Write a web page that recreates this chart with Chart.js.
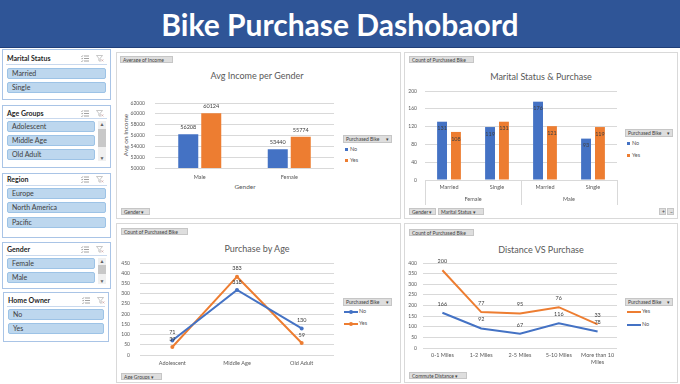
<!DOCTYPE html>
<html><head><meta charset="utf-8">
<script src="https://cdn.jsdelivr.net/npm/chart.js@4"></script>
<style>
body{margin:0;width:680px;height:384px;overflow:hidden;background:#fff;font-family:Lato,'Open Sans',sans-serif;position:relative}
#hdr{position:absolute;left:0;top:0;width:680px;height:47px;background:#2F5597;border-bottom:1px solid #1f3e78}
#hdr div{position:absolute;left:0;right:0;top:6px;text-align:center;color:#fff;font-weight:bold;font-size:30px;line-height:36px}
.slicer{position:absolute;border:1px solid #a9c4e6;background:#fff;box-sizing:border-box}
.sh{position:absolute;font-size:7px;font-weight:bold;color:#262626;line-height:8px;white-space:nowrap}
.sep{position:absolute;height:1px;background:#c9d9ee}
.item{position:absolute;height:11px;background:#BDD7EE;border:1px solid #9DC3E6;border-radius:2px;box-sizing:border-box;font-size:7px;color:#404040;line-height:9px;padding-left:4px;white-space:nowrap}
.sb{position:absolute;width:8px;background:#f0f0f0}
.thumb{position:absolute;width:8px;background:#c8c8c8}
.arr{position:absolute;width:8px;font-size:5px;color:#606060;text-align:center;line-height:6px}
.panel{position:absolute;border:1px solid #d9d9d9;box-sizing:border-box;background:#fff}
.btn{position:absolute;background:#dedede;border:1px solid #c6c6c6;box-sizing:border-box;font-size:5px;color:#404040;line-height:6px;padding-left:2px;white-space:nowrap;overflow:hidden}
.ttl{position:absolute;font-size:9px;color:#595959;white-space:nowrap;transform:translate(-50%,-50%)}
.axt{position:absolute;font-size:6.5px;color:#595959;white-space:nowrap;transform:translate(-50%,-50%)}
.lg{position:absolute;font-size:5.5px;color:#595959;white-space:nowrap;line-height:6px}
.sq{display:inline-block;width:3px;height:3px;margin-right:2px;vertical-align:middle}
.ln{display:inline-block;width:14px;height:2px;margin-right:1px;vertical-align:middle;position:relative}
.ln i{position:absolute;left:5px;top:-1px;width:4px;height:4px;border-radius:50%}
canvas{position:absolute}
svg{position:absolute}
</style>
</head>
<body>
<div id="hdr"><div>Bike Purchase Dashobaord</div></div>
<script>
// ---------- data ----------
const incomeGenders = ['Male', 'Female'];
const incomeNo = [56208, 53440];
const incomeYes = [60124, 55774];
const incomeMin = 50000, incomeMax = 62000, incomeStep = 2000;

const maritalCats = ['Married', 'Single', 'Married', 'Single'];
const maritalGroups = ['Female', 'Male'];
const maritalNo = [131, 119, 176, 93];
const maritalYes = [108, 131, 121, 119];

const ageCats = ['Adolescent', 'Middle Age', 'Old Adult'];
const ageNo = [71, 318, 130];
const ageYes = [39, 383, 59];

const distCats = ['0-1 Miles', '1-2 Miles', '2-5 Miles', '5-10 Miles', ['More than 10', 'Miles']];
const distNo = [166, 92, 67, 116, 78];
const distYes = [200, 77, 95, 76, 33];

const BLUE = '#4472C4', ORANGE = '#ED7D31';

// ---------- helpers ----------
function el(cls, css, html){
  const d=document.createElement('div'); d.className=cls;
  Object.assign(d.style, css); if(html!==undefined) d.innerHTML=html;
  document.body.appendChild(d); return d;
}
function px(o){const r={};for(const k in o){r[k]=typeof o[k]==='number'?o[k]+'px':o[k];}return r;}

// ---------- slicers ----------
const slicers = [
  {t:'Marital Status', x:2, y:49, w:109, h:51, hy:54, sy:64, items:[['Married',68],['Single',82]], scroll:null},
  {t:'Age Groups', x:2, y:105, w:109, h:63, hy:109, sy:118, items:[['Adolescent',121],['Middle Age',135],['Old Adult',149]], scroll:[121,161,129,147]},
  {t:'Region', x:2, y:173, w:109, h:65, hy:175, sy:185, items:[['Europe',188],['North America',202],['Pacific',217]], scroll:null},
  {t:'Gender', x:2, y:242, w:109, h:47, hy:245, sy:255, items:[['Female',258],['Male',272]], scroll:[258,284,265,274]},
  {t:'Home Owner', x:3, y:292, w:106, h:50, hy:296, sy:306, items:[['No',309],['Yes',323]], scroll:null}
];
const iconSel = (x,y)=>`<svg style="left:${x}px;top:${y}px" width="8" height="7" viewBox="0 0 8 7"><g stroke="#8a8a8a" stroke-width="0.8" fill="none"><path d="M3 1H8M3 3.5H8M3 6H8"/><path d="M0.3 1l0.6 0.6 1-1.2M0.3 3.5l0.6 0.6 1-1.2M0.3 6l0.6 0.6 1-1.2"/></g></svg>`;
const iconClr = (x,y)=>`<svg style="left:${x}px;top:${y}px" width="8" height="7" viewBox="0 0 8 7"><path d="M0.5 0.5H6.5L4.2 3.3V6.3L2.8 5.6V3.3Z" fill="none" stroke="#b0b0b0" stroke-width="0.7"/><path d="M5.3 4.4l2 2M7.3 4.4l-2 2" stroke="#c8a0a0" stroke-width="0.7"/></svg>`;
slicers.forEach(s=>{
  el('slicer', px({left:s.x, top:s.y, width:s.w, height:s.h}));
  el('sh', px({left:s.x+5, top:s.hy}), s.t);
  document.body.insertAdjacentHTML('beforeend', iconSel(s.x+79, s.hy+0.5) + iconClr(s.x+94, s.hy+0.5));
  el('sep', px({left:s.x+4, top:s.sy, width:s.w-8}));
  const iw = s.scroll ? 88 : s.w-10;
  s.items.forEach(([t,y])=> el('item', px({left:s.x+5, top:y, width:iw}), t));
  if(s.scroll){
    const [a,b,ta,tb]=s.scroll;
    el('sb', px({left:s.x+96, top:a, height:b-a}));
    el('thumb', px({left:s.x+96, top:ta, height:tb-ta}));
    el('arr', px({left:s.x+96, top:a}), '&#9650;');
    el('arr', px({left:s.x+96, top:b-6}), '&#9660;');
  }
});

// ---------- panels ----------
[[116,52,285,167],[404,52,274,167],[116,223,285,160],[404,223,274,160]].forEach(p=>el('panel', px({left:p[0],top:p[1],width:p[2],height:p[3]})));

// buttons
function btn(x,y,w,t,h){el('btn', px({left:x, top:y, width:w, height:h||7}), t);}
btn(120,56,53,'Average of Income');
btn(409,56,65,'Count of Purchased Bike');
btn(121,228,67,'Count of Purchased Bike');
btn(409,229,65,'Count of Purchased Bike');
btn(121,208,29,'Gender &#9662;');
btn(409,208,27,'Gender &#9662;');
btn(438,208,46,'Marital Status &#9662;');
btn(659,208,7,'+');
btn(667,208,7,'&minus;');
btn(121,373,41,'Age Groups &#9662;');
btn(409,372,58,'Commute Distance &#9662;');
btn(343,135,49,'Purchased Bike <span style="float:right;margin-right:2px">&#9662;</span>',8);
btn(625,129,48,'Purchased Bike <span style="float:right;margin-right:2px">&#9662;</span>',8);
btn(343,298,49,'Purchased Bike <span style="float:right;margin-right:2px">&#9662;</span>',8);
btn(625,298,48,'Purchased Bike <span style="float:right;margin-right:2px">&#9662;</span>',8);

// titles
el('ttl', px({left:257, top:75}), 'Avg Income per Gender');
el('ttl', px({left:541, top:76}), 'Marital Status &amp; Purchase');
el('ttl', px({left:257, top:248}), 'Purchase by Age');
el('ttl', px({left:541, top:249}), 'Distance VS Purchase');
el('axt', Object.assign(px({left:125, top:135}),{transform:'translate(-50%,-50%) rotate(-90deg)'}), 'Avg on Income');
el('axt', px({left:245, top:186}), 'Gender');

// legends
el('lg', px({left:345, top:146}), `<span class="sq" style="background:${BLUE}"></span>No`);
el('lg', px({left:345, top:157}), `<span class="sq" style="background:${ORANGE}"></span>Yes`);
el('lg', px({left:627, top:140}), `<span class="sq" style="background:${BLUE}"></span>No`);
el('lg', px({left:627, top:152}), `<span class="sq" style="background:${ORANGE}"></span>Yes`);
el('lg', px({left:344, top:308}), `<span class="ln" style="background:${BLUE}"><i style="background:${BLUE}"></i></span>No`);
el('lg', px({left:344, top:320}), `<span class="ln" style="background:${ORANGE}"><i style="background:${ORANGE}"></i></span>Yes`);
el('lg', px({left:627, top:308}), `<span class="ln" style="background:${ORANGE}"></span>Yes`);
el('lg', px({left:627, top:321}), `<span class="ln" style="background:${BLUE}"></span>No`);

// ---------- chart plugins ----------
const dataLabels = {
  id:'dl',
  afterDatasetsDraw(chart, args, o){
    const ctx=chart.ctx; ctx.save();
    ctx.font = (o.size||5.5)+'px Lato'; ctx.fillStyle = o.color||'#404040';
    ctx.textAlign='center'; ctx.textBaseline='middle';
    chart.data.datasets.forEach((ds,i)=>{
      chart.getDatasetMeta(i).data.forEach((e,j)=>{
        const y = o.mode==='inside' ? e.y + o.offset : e.y - o.offset;
        ctx.fillText(String(ds.data[j]), e.x, y);
      });
    });
    ctx.restore();
  }
};
const groupAxis = {
  id:'grp',
  afterDraw(chart){
    const ctx=chart.ctx, x=chart.scales.x, a=chart.chartArea;
    const n = maritalCats.length / maritalGroups.length;
    ctx.save(); ctx.strokeStyle='#d9d9d9'; ctx.lineWidth=1;
    const bounds=[a.left];
    for(let g=1; g<maritalGroups.length; g++) bounds.push((x.getPixelForValue(g*n-1)+x.getPixelForValue(g*n))/2);
    bounds.push(a.right);
    bounds.forEach(b=>{ctx.beginPath(); ctx.moveTo(Math.round(b)+0.5,a.bottom); ctx.lineTo(Math.round(b)+0.5,a.bottom+25); ctx.stroke();});
    ctx.font='5.5px Lato'; ctx.fillStyle='#595959'; ctx.textAlign='center'; ctx.textBaseline='middle';
    maritalGroups.forEach((g,i)=>ctx.fillText(g,(bounds[i]+bounds[i+1])/2,a.bottom+19));
    ctx.restore();
  }
};

function mk(box, area, cfg){
  const c=document.createElement('canvas');
  c.width=box.w; c.height=box.h;
  Object.assign(c.style, px({left:box.x, top:box.y, width:box.w, height:box.h}));
  document.body.appendChild(c);
  const o=cfg.options;
  o.responsive=false; o.animation=false; o.maintainAspectRatio=false;
  o.layout={padding:{left:0, top:area.t-box.y, right:box.x+box.w-area.r, bottom:0}};
  o.scales.y.afterFit = s=>{s.width=area.l-box.x;};
  o.scales.x.afterFit = s=>{s.height=box.y+box.h-area.b;};
  o.plugins = Object.assign({legend:{display:false}, tooltip:{enabled:false}, title:{display:false}}, o.plugins||{});
  return new Chart(c,cfg);
}
const tickFont = {family:'Lato', size:5.5};
const yFont = {family:'Lato', size:5};
const xAxis = pad => ({grid:{display:false, drawTicks:false}, border:{display:false}, ticks:{font:tickFont, color:'#595959', padding:pad, maxRotation:0, autoSkip:false}});
const yAxis = (min,max,step,pad) => ({min, max, grid:{color:'#d9d9d9', drawTicks:false}, border:{display:false},
  ticks:{stepSize:step, font:yFont, color:'#595959', padding:pad, callback:v=>String(v)}});

// Chart 1: Avg income per gender
mk({x:115,y:90,w:225,h:105},{l:155,t:100,r:334,b:168},{
  type:'bar',
  data:{labels:incomeGenders, datasets:[
    {label:'No', data:incomeNo, backgroundColor:BLUE, barPercentage:0.87, categoryPercentage:0.514},
    {label:'Yes', data:incomeYes, backgroundColor:ORANGE, barPercentage:0.87, categoryPercentage:0.514}]},
  options:{scales:{x:xAxis(6), y:yAxis(incomeMin,incomeMax,incomeStep,10)}, plugins:{dl:{mode:'above', offset:7}}},
  plugins:[dataLabels]
});

// Chart 2: Marital status & purchase
mk({x:405,y:80,w:215,h:135},{l:425,t:89,r:617,b:180},{
  type:'bar',
  data:{labels:maritalCats, datasets:[
    {label:'No', data:maritalNo, backgroundColor:BLUE, barPercentage:0.71, categoryPercentage:0.58},
    {label:'Yes', data:maritalYes, backgroundColor:ORANGE, barPercentage:0.71, categoryPercentage:0.58}]},
  options:{scales:{x:xAxis(4), y:yAxis(0,200,20,8)}, plugins:{dl:{mode:'inside', offset:7}}},
  plugins:[dataLabels, groupAxis]
});

// Chart 3: Purchase by age
mk({x:115,y:250,w:225,h:120},{l:140,t:261,r:334,b:355},{
  type:'line',
  data:{labels:ageCats, datasets:[
    {label:'No', data:ageNo, borderColor:BLUE, backgroundColor:BLUE, borderWidth:2, pointRadius:2, pointBorderWidth:0, tension:0},
    {label:'Yes', data:ageYes, borderColor:ORANGE, backgroundColor:ORANGE, borderWidth:2, pointRadius:2, pointBorderWidth:0, tension:0}]},
  options:{scales:{x:Object.assign(xAxis(5),{offset:true}), y:yAxis(0,450,50,10)}, plugins:{dl:{mode:'above', offset:8}}},
  plugins:[dataLabels]
});

// Chart 4: Distance vs purchase (stacked line)
mk({x:405,y:252,w:220,h:120},{l:423,t:263,r:617,b:348},{
  type:'line',
  data:{labels:distCats, datasets:[
    {label:'No', data:distNo, borderColor:BLUE, borderWidth:2, pointRadius:0, tension:0},
    {label:'Yes', data:distYes, borderColor:ORANGE, borderWidth:2, pointRadius:0, tension:0}]},
  options:{scales:{x:Object.assign(xAxis(4),{offset:true}), y:Object.assign(yAxis(0,400,50,6),{stacked:true})}, plugins:{dl:{mode:'above', offset:9}}},
  plugins:[dataLabels]
});
</script>
</body></html>
